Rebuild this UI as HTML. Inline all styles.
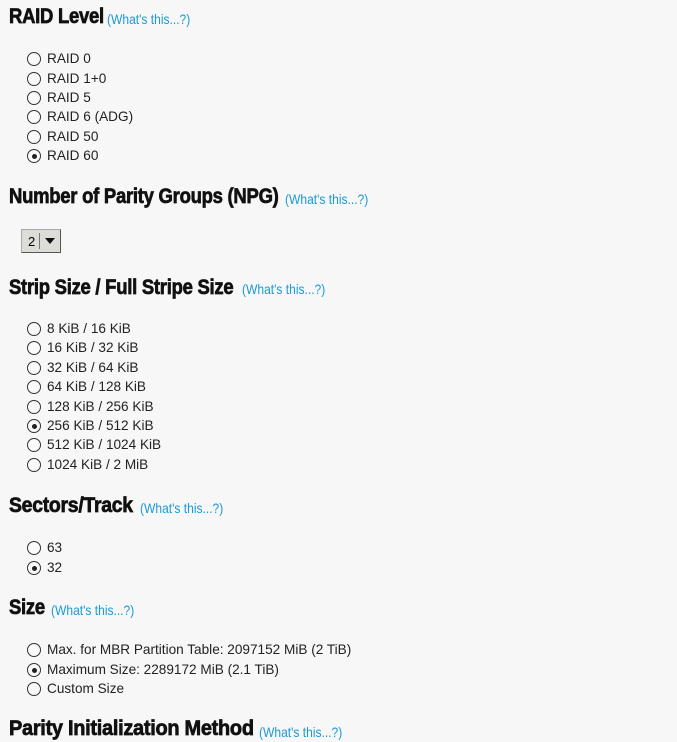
<!DOCTYPE html>
<html><head><meta charset="utf-8"><style>
html,body{margin:0;padding:0;background:#f7f7f7;width:677px;height:742px;overflow:hidden;position:relative;font-family:"Liberation Sans",sans-serif;}
.h{position:absolute;left:9px;font-weight:bold;font-size:21px;line-height:24px;color:#111;white-space:nowrap;transform:scaleX(0.88);transform-origin:left center;letter-spacing:-0.3px;-webkit-text-stroke:0.7px #111}
.l{position:absolute;font-size:14px;line-height:16px;color:#1a9ad6;white-space:nowrap;transform:scaleX(0.86);transform-origin:left center}
.r{position:absolute;left:27px;height:16px;font-size:13.6px;line-height:16px;color:#222;white-space:nowrap}
.r i{position:absolute;left:0;top:1px;width:12px;height:12px;border:1.4px solid #333;border-radius:50%;background:#fafafa}
.r i.c:after{content:"";position:absolute;left:3.5px;top:3.5px;width:5px;height:5px;border-radius:50%;background:#222}
.r span{position:absolute;left:20px;top:0}
.sel{position:absolute;left:21px;top:229px;width:40px;height:24px;background:#dcdcd8;border:1px solid #aaa;border-right-color:#555;border-bottom-color:#555;box-sizing:border-box;font-size:13px}
</style></head><body>
<div class="h" style="top:5px">RAID Level</div><div class="l" style="left:107px;top:11px">(What's this...?)</div>
<div class="r" style="top:51px"><i></i><span>RAID 0</span></div>
<div class="r" style="top:71px"><i></i><span>RAID 1+0</span></div>
<div class="r" style="top:90px"><i></i><span>RAID 5</span></div>
<div class="r" style="top:109px"><i></i><span>RAID 6 (ADG)</span></div>
<div class="r" style="top:129px"><i></i><span>RAID 50</span></div>
<div class="r" style="top:148px"><i class="c"></i><span>RAID 60</span></div>

<div class="h" style="top:185px">Number of Parity Groups (NPG)</div><div class="l" style="left:285px;top:191px">(What's this...?)</div>
<div class="sel"><span style="position:absolute;left:6px;top:4px">2</span><span style="position:absolute;left:17px;top:3px;width:1px;height:16px;background:#777"></span><span style="position:absolute;left:23px;top:8px;width:0;height:0;border-left:5px solid transparent;border-right:5px solid transparent;border-top:6px solid #111"></span></div>

<div class="h" style="top:276px">Strip Size / Full Stripe Size</div><div class="l" style="left:242px;top:281px">(What's this...?)</div>
<div class="r" style="top:321px"><i></i><span>8 KiB / 16 KiB</span></div>
<div class="r" style="top:340px"><i></i><span>16 KiB / 32 KiB</span></div>
<div class="r" style="top:360px"><i></i><span>32 KiB / 64 KiB</span></div>
<div class="r" style="top:379px"><i></i><span>64 KiB / 128 KiB</span></div>
<div class="r" style="top:399px"><i></i><span>128 KiB / 256 KiB</span></div>
<div class="r" style="top:418px"><i class="c"></i><span>256 KiB / 512 KiB</span></div>
<div class="r" style="top:437px"><i></i><span>512 KiB / 1024 KiB</span></div>
<div class="r" style="top:457px"><i></i><span>1024 KiB / 2 MiB</span></div>

<div class="h" style="top:494px;transform:scaleX(0.925)">Sectors/Track</div><div class="l" style="left:140px;top:500px">(What's this...?)</div>
<div class="r" style="top:540px"><i></i><span>63</span></div>
<div class="r" style="top:560px"><i class="c"></i><span>32</span></div>

<div class="h" style="top:596px">Size</div><div class="l" style="left:51px;top:602px">(What's this...?)</div>
<div class="r" style="top:642px"><i></i><span>Max. for MBR Partition Table: 2097152 MiB (2 TiB)</span></div>
<div class="r" style="top:662px"><i class="c"></i><span>Maximum Size: 2289172 MiB (2.1 TiB)</span></div>
<div class="r" style="top:681px"><i></i><span>Custom Size</span></div>

<div class="h" style="top:717px;transform:scaleX(0.95)">Parity Initialization Method</div><div class="l" style="left:259px;top:724px">(What's this...?)</div>
</body></html>
